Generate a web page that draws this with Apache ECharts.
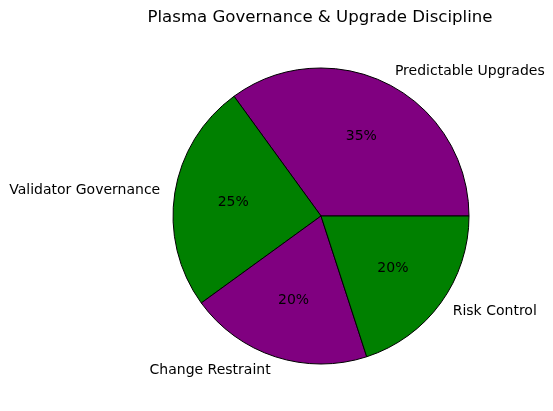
<!DOCTYPE html>
<html>
<head>
<meta charset="utf-8">
<script src="https://cdn.jsdelivr.net/npm/echarts@6/dist/echarts.min.js"></script>
<style>
html, body { margin: 0; padding: 0; background: #fff; }
#chart { width: 553px; height: 411px; }
</style>
</head>
<body>
<div id="chart"></div>
<script>
const categories = ['Predictable Upgrades', 'Validator Governance', 'Change Restraint', 'Risk Control'];
const shares = [35, 25, 20, 20];
const colors = ['#800080', '#008000', '#800080', '#008000'];

const R = 148; // pie radius, px
const center = [321, 216];
const font = 'DejaVu Sans';
const titleText = 'Plasma Governance & Upgrade Discipline';
const titleSize = 16.6;

// the title is centred over the axes, not the whole figure
const ctx = document.createElement('canvas').getContext('2d');
ctx.font = titleSize + 'px "' + font + '"';
const titleLeft = 320 - ctx.measureText(titleText).width / 2;

const slices = categories.map((name, i) => ({
    name: name,
    value: shares[i],
    itemStyle: {color: colors[i]},
}));

const myChart = echarts.init(document.getElementById('chart'));
const option = {
    animation: false,
    title: {
        text: titleText,
        left: titleLeft,
        top: 9,
        padding: 0,
        textStyle: {fontFamily: font, fontSize: titleSize, fontWeight: 'normal', color: '#000'},
    },
    series: [
        {
            // the pie itself, with the names outside
            type: 'pie',
            center: center,
            radius: R,
            startAngle: 0,
            clockwise: false,
            avoidLabelOverlap: false,
            data: slices,
            itemStyle: {borderColor: '#000', borderWidth: 1},
            label: {
                show: true,
                position: 'outside',
                formatter: '{b}',
                fontFamily: font,
                fontSize: 14,
                color: '#000',
                distanceToLabelLine: 0,
            },
            labelLine: {show: false, length: R * 0.1, length2: 0},
            emphasis: {disabled: true},
        },
        {
            // transparent ring, only to put the percentages at 0.6 R
            type: 'pie',
            center: center,
            radius: [R * 0.48, R * 0.68],
            startAngle: 0,
            clockwise: false,
            silent: true,
            data: categories.map((name, i) => ({name: name, value: shares[i]})),
            itemStyle: {color: 'rgba(0,0,0,0)', borderWidth: 0},
            label: {
                show: true,
                position: 'inside',
                formatter: (p) => p.percent.toFixed(0) + '%',
                fontFamily: font,
                fontSize: 14,
                color: '#000',
            },
            labelLine: {show: false},
        },
    ],
};
myChart.setOption(option);
</script>
</body>
</html>
